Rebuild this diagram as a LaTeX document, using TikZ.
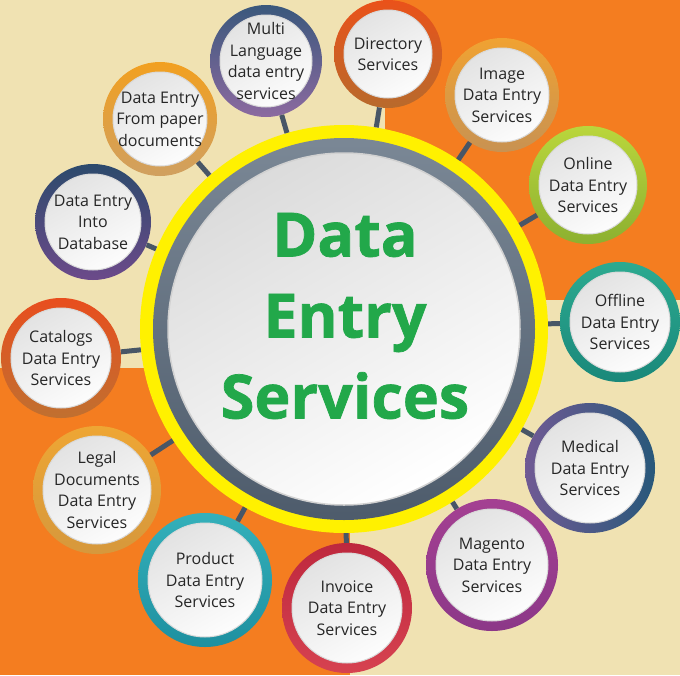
\documentclass[tikz,border=0pt]{standalone}
\usepackage{fontspec}
\setmainfont{Open Sans}
\newfontfamily\titlefont[BoldFeatures={FakeBold=1.2}]{Open Sans}
\usetikzlibrary{calc}

\definecolor{beige}{RGB}{240,226,178}
\definecolor{orangebg}{RGB}{244,125,32}
\definecolor{hubyellow}{RGB}{255,241,0}
\definecolor{ringtop}{RGB}{124,137,151}
\definecolor{ringbot}{RGB}{76,90,106}
\definecolor{titlegreen}{RGB}{34,168,74}
\definecolor{linkgray}{RGB}{72,86,102}
\definecolor{mulA}{RGB}{58,88,124}
\definecolor{mulB}{RGB}{140,106,160}
\definecolor{dirA}{RGB}{234,82,26}
\definecolor{dirB}{RGB}{184,106,44}
\definecolor{imgA}{RGB}{240,162,50}
\definecolor{imgB}{RGB}{200,146,82}
\definecolor{onlA}{RGB}{186,214,60}
\definecolor{onlB}{RGB}{140,176,48}
\definecolor{offA}{RGB}{44,170,144}
\definecolor{offB}{RGB}{26,136,122}
\definecolor{medA}{RGB}{112,90,148}
\definecolor{medB}{RGB}{40,88,122}
\definecolor{magA}{RGB}{164,64,146}
\definecolor{magB}{RGB}{140,56,136}
\definecolor{invA}{RGB}{190,40,62}
\definecolor{invB}{RGB}{214,66,80}
\definecolor{proA}{RGB}{52,176,186}
\definecolor{proB}{RGB}{30,144,160}
\definecolor{legA}{RGB}{238,166,52}
\definecolor{legB}{RGB}{214,152,60}
\definecolor{catA}{RGB}{232,78,30}
\definecolor{catB}{RGB}{192,112,48}
\definecolor{dbA}{RGB}{44,74,108}
\definecolor{dbB}{RGB}{108,74,138}
\definecolor{papA}{RGB}{242,160,32}
\definecolor{papB}{RGB}{208,160,96}

\begin{document}
\begin{tikzpicture}[x=1pt, y=1pt,
    hub/.style = {circle, inner sep=0pt, minimum size=408pt, fill=hubyellow,
        path picture={
            \shade[top color=ringtop, bottom color=ringbot]
                (path picture bounding box.center) circle (191pt);
            \shade[top color=black!14, bottom color=white, shading angle=30,
                draw=white!82!black, line width=1.5pt]
                (path picture bounding box.center) circle (176pt);
        }},
    title/.style = {align=center, text=titlegreen,
        font=\titlefont\fontsize{61}{81}\selectfont\bfseries},
    sat/.style = {circle, inner sep=0pt, align=center, text=black!85,
        font=\fontsize{16}{21.5}\selectfont, #1,
        path picture={
            \shade[top color=black!12, bottom color=white, shading angle=30,
                draw=white!85!black, line width=1pt]
                let \p1 = (path picture bounding box.east),
                    \p2 = (path picture bounding box.center)
                in (\p2) circle [radius={\x1-\x2-10pt}];
        }},
    link/.style = {draw=linkgray, line width=5pt}]
\useasboundingbox (0,0) rectangle (680,-675);
\fill[beige] (0,0) rectangle (680,-675);
\fill[orangebg] (385,0) rectangle (680,-300);
\fill[orangebg] (0,-368) rectangle (350,-675);

\node[hub] (hub) at (344,-329) {};
\node[title] (title) at (345,-316) {Data\\Entry\\Services};

\node[sat={top color=mulA, bottom color=mulB}, minimum size=112pt] (multi) at (266,-61)
    {Multi\\Language\\data entry\\services};
\node[sat={top color=dirA, bottom color=dirB}, minimum size=108pt] (directory) at (388,-54)
    {Directory\\Services};
\node[sat={top color=imgA, bottom color=imgB}, minimum size=114pt] (image) at (502,-95)
    {Image\\Data Entry\\Services};
\node[sat={top color=onlA, bottom color=onlB}, minimum size=118pt] (online) at (588,-185)
    {Online\\Data Entry\\Services};
\node[sat={top color=offA, bottom color=offB}, minimum size=120pt] (offline) at (620,-322)
    {Offline\\Data Entry\\Services};
\node[sat={left color=medA, right color=medB}, minimum size=130pt] (medical) at (590,-468)
    {Medical\\Data Entry\\Services};
\node[sat={top color=magA, bottom color=magB}, minimum size=132pt] (magento) at (492,-565)
    {Magento\\Data Entry\\Services};
\node[sat={top color=invA, bottom color=invB}, minimum size=130pt] (invoice) at (347,-608)
    {Invoice\\Data Entry\\Services};
\node[sat={top color=proA, bottom color=proB}, minimum size=134pt] (product) at (205,-580)
    {Product\\Data Entry\\Services};
\node[sat={top color=legA, bottom color=legB}, minimum size=128pt] (legal) at (97,-490)
    {Legal\\Documents\\Data Entry\\Services};
\node[sat={top color=catA, bottom color=catB}, minimum size=120pt] (catalogs) at (61,-358)
    {Catalogs\\Data Entry\\Services};
\node[sat={top color=dbA, bottom color=dbB}, minimum size=116pt] (database) at (93,-222)
    {Data Entry\\Into\\Database};
\node[sat={top color=papA, bottom color=papB}, minimum size=114pt] (paper) at (160,-119)
    {Data Entry\\From paper\\documents};

\draw[link] (multi) -- (hub) (directory) -- (hub) (image) -- (hub)
    (online) -- (hub) (offline) -- (hub) (medical) -- (hub) (magento) -- (hub)
    (invoice) -- (hub) (product) -- (hub) (legal) -- (hub) (catalogs) -- (hub)
    (database) -- (hub) (paper) -- (hub);
\end{tikzpicture}
\end{document}
